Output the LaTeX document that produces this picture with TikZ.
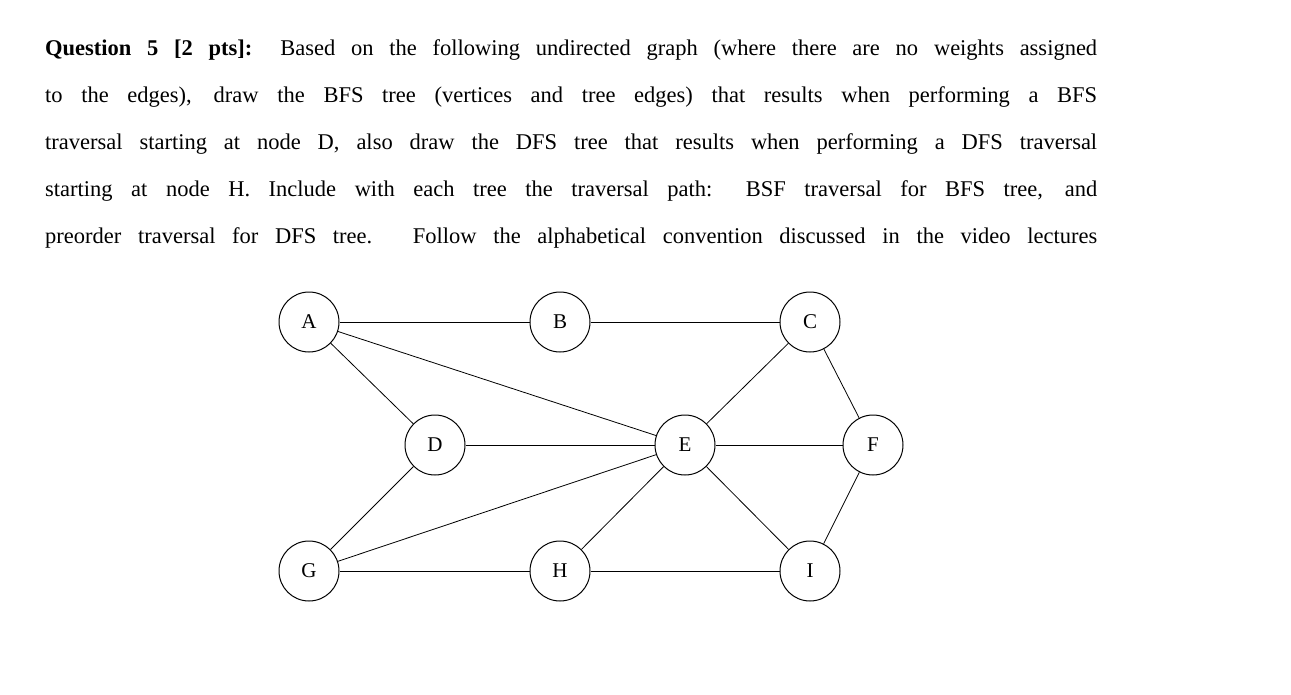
\documentclass[tikz,border=0pt]{standalone}
\usepackage{fontspec}
\setmainfont{Liberation Serif}
\begin{document}
\begin{tikzpicture}[x=1pt,y=-1pt,
  v/.style={circle,draw,line width=1pt,minimum size=60pt,inner sep=0pt,font=\fontsize{21}{24}\selectfont},
  ln/.style={anchor=base west,text width=1052pt,inner sep=0pt,align=justify,font=\fontsize{22.5}{26}\selectfont},
  e/.style={line width=0.8pt}]
\useasboundingbox (0,0) rectangle (1291,694);
\node[ln] (l1) at (45,55) {\parfillskip=0pt \textbf{Question 5 [2 pts]:} Based on the following undirected graph (where there are no weights assigned\par};
\node[ln] (l2) at (45,102) {\parfillskip=0pt to the edges), draw the BFS tree (vertices and tree edges) that results when performing a BFS\par};
\node[ln] (l3) at (45,149) {\parfillskip=0pt traversal starting at node D, also draw the DFS tree that results when performing a DFS traversal\par};
\node[ln] (l4) at (45,196) {\parfillskip=0pt starting at node H. Include with each tree the traversal path: BSF traversal for BFS tree, and\par};
\node[ln] (l5) at (45,243) {\parfillskip=0pt preorder traversal for DFS tree. Follow the alphabetical convention discussed in the video lectures\par};
\node[v] (A) at (309,322) {A};
\node[v] (B) at (560,322) {B};
\node[v] (C) at (810,322) {C};
\node[v] (D) at (435,445) {D};
\node[v] (E) at (685,445) {E};
\node[v] (F) at (873,445) {F};
\node[v] (G) at (309,571) {G};
\node[v] (H) at (560,571) {H};
\node[v] (I) at (810,571) {I};
\foreach \a/\b in {A/B,B/C,A/D,A/E,C/E,C/F,D/E,E/F,D/G,G/E,G/H,H/E,E/I,H/I,F/I}
  \draw[e] (\a) -- (\b);
\end{tikzpicture}
\end{document}
